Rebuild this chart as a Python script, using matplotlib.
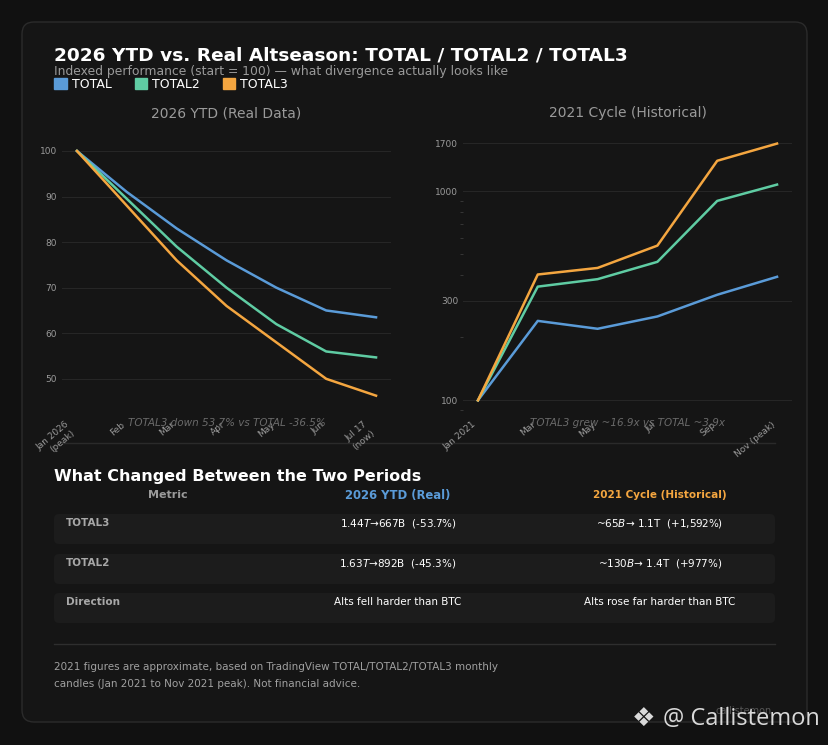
import numpy as np
import matplotlib.pyplot as plt
from matplotlib.patches import FancyBboxPatch, Patch
from matplotlib.ticker import NullFormatter

# 2026 YTD, indexed to 100
ytd_labels = ['Jan 2026\n(peak)', 'Feb', 'Mar', 'Apr', 'May', 'Jun', 'Jul 17\n(now)']
ytd_total = [100, 91, 83, 76, 70, 65, 63.5]
ytd_total2 = [100, 89.5, 79, 70, 62, 56, 54.7]
ytd_total3 = [100, 88, 76, 66, 58, 50, 46.3]
ytd_yticks = [50, 60, 70, 80, 90, 100]

# 2021 cycle, indexed to 100 (log scale)
cyc_labels = ['Jan 2021', 'Mar', 'May', 'Jul', 'Sep', 'Nov (peak)']
cyc_total = [100, 240, 220, 252, 320, 390]
cyc_total2 = [100, 350, 380, 460, 900, 1077]
cyc_total3 = [100, 400, 430, 550, 1400, 1692]
cyc_yticks = [100, 300, 1000, 1700]

series_names = ['TOTAL', 'TOTAL2', 'TOTAL3']
colors = ['#5a9bd8', '#5fcca3', '#f4a640']

table_metrics = ['TOTAL3', 'TOTAL2', 'Direction']
table_ytd = ['$1.44T→$667B  (-53.7%)', '$1.63T→$892B  (-45.3%)', 'Alts fell harder than BTC']
table_2021 = ['~$65B→$ 1.1T  (+1,592%)', '~$130B→$ 1.4T  (+977%)', 'Alts rose far harder than BTC']

W, H = 829, 745
BG = '#111111'
TXT = '#9a9a9a'


def fx(x):
    return x / W


def fy(y):
    return 1 - y / H


def style_axes(ax):
    ax.set_facecolor('none')
    for s in ax.spines.values():
        s.set_visible(False)
    ax.grid(axis='y', color='#262626', lw=0.8)
    ax.set_axisbelow(True)
    ax.tick_params(length=0, colors=TXT, labelsize=6.5)
    ax.tick_params(axis='x', pad=5)


fig = plt.figure(figsize=(8.29, 7.45), dpi=100, facecolor=BG)

# full-figure layer in pixel coordinates for the card, separators and table
bg = fig.add_axes([0, 0, 1, 1])
bg.set_xlim(0, W)
bg.set_ylim(H, 0)
bg.axis('off')
bg.add_patch(FancyBboxPatch((22, 22), 785, 700, boxstyle='round,pad=0,rounding_size=12',
                            fc='#151515', ec='#2b2b2b', lw=1))

fig.text(fx(54), fy(55), '2026 YTD vs. Real Altseason: TOTAL / TOTAL2 / TOTAL3',
         fontsize=13.3, weight='bold', color='white', va='center')
fig.text(fx(54), fy(72), 'Indexed performance (start = 100) \u2014 what divergence actually looks like',
         fontsize=8.9, color=TXT, va='center')

handles = [Patch(color=c, label=n) for c, n in zip(colors, series_names)]
fig.legend(handles=handles, loc='upper left', bbox_to_anchor=(fx(54), fy(78)), ncol=3,
           frameon=False, fontsize=9, labelcolor='white', handlelength=1.0, handleheight=1.0,
           handletextpad=0.4, columnspacing=1.85, borderpad=0, borderaxespad=0)

# left panel
axL = fig.add_axes([fx(62), fy(413), (391 - 62) / W, (413 - 130) / H])
style_axes(axL)
x = np.arange(len(ytd_labels))
for vals, c in zip([ytd_total, ytd_total2, ytd_total3], colors):
    axL.plot(x, vals, color=c, lw=1.8)
axL.set_xlim(-0.3, len(x) - 0.7)
axL.set_ylim(42.5, 104.6)
axL.set_yticks(ytd_yticks)
axL.set_xticks(x)
axL.set_xticklabels(ytd_labels, rotation=40, ha='right')
axL.set_title('2026 YTD (Real Data)', color=TXT, fontsize=10, pad=9)
axL.text(0.5, -0.035, 'TOTAL3 down 53.7% vs TOTAL -36.5%', transform=axL.transAxes,
         ha='center', va='center', style='italic', color='#6a6a6a', fontsize=7.5)

# right panel
axR = fig.add_axes([fx(463), fy(413), (792 - 463) / W, (413 - 130) / H])
style_axes(axR)
x2 = np.arange(len(cyc_labels))
for vals, c in zip([cyc_total, cyc_total2, cyc_total3], colors):
    axR.plot(x2, vals, color=c, lw=1.8)
axR.set_yscale('log')
axR.set_xlim(-0.25, len(x2) - 0.75)
axR.set_ylim(87, 1965)
axR.set_yticks(cyc_yticks)
axR.set_yticklabels([str(v) for v in cyc_yticks])
axR.yaxis.set_minor_formatter(NullFormatter())
axR.tick_params(axis='y', which='minor', length=2.5, color='#3c3c3c')
axR.set_xticks(x2)
axR.set_xticklabels(cyc_labels, rotation=40, ha='right')
axR.set_title('2021 Cycle (Historical)', color=TXT, fontsize=10, pad=9)
axR.text(0.5, -0.035, 'TOTAL3 grew ~16.9x vs TOTAL ~3.9x', transform=axR.transAxes,
         ha='center', va='center', style='italic', color='#6a6a6a', fontsize=7.5)

bg.plot([62, 775], [443, 443], color='#2a2a2a', lw=1)

# comparison table
bg.text(54, 476, 'What Changed Between the Two Periods', fontsize=11.5, weight='bold',
        color='white', va='center')
bg.text(168, 495, 'Metric', fontsize=8, weight='bold', color=TXT, ha='center', va='center')
bg.text(398, 496, '2026 YTD (Real)', fontsize=8.4, weight='bold', color=colors[0],
        ha='center', va='center')
bg.text(660, 495, '2021 Cycle (Historical)', fontsize=7.5, weight='bold', color=colors[2],
        ha='center', va='center')

row_tops = [514, 554, 593]
for top, m, a, b in zip(row_tops, table_metrics, table_ytd, table_2021):
    bg.add_patch(FancyBboxPatch((54, top), 721, 30, boxstyle='round,pad=0,rounding_size=5',
                                fc='#1c1c1c', ec='none'))
    bg.text(66, top + 9, m, fontsize=7.5, weight='bold', color='#a8a8a8', va='center')
    bg.text(398, top + 9, a, fontsize=7.5, color='white', ha='center', va='center')
    bg.text(660, top + 9, b, fontsize=7.5, color='white', ha='center', va='center')

bg.plot([54, 775], [644, 644], color='#2e2e2e', lw=1)
bg.text(54, 667, '2021 figures are approximate, based on TradingView TOTAL/TOTAL2/TOTAL3 monthly',
        fontsize=7.5, color='#a0a0a0', va='center')
bg.text(54, 684, 'candles (Jan 2021 to Nov 2021 peak). Not financial advice.',
        fontsize=7.5, color='#a0a0a0', va='center')

# watermark
fig.text(fx(744), fy(711), 'callistemon', fontsize=7, color='#555555', ha='center', va='center')
fig.text(fx(644), fy(719), '\u2756', fontsize=19, color='#d9d9d9', ha='center', va='center')
fig.text(fx(663), fy(719), '@ Callistemon', family='Open Sans', fontsize=17,
         color='#d9d9d9', va='center')

fig.savefig('out.png', dpi=100, facecolor=BG)
